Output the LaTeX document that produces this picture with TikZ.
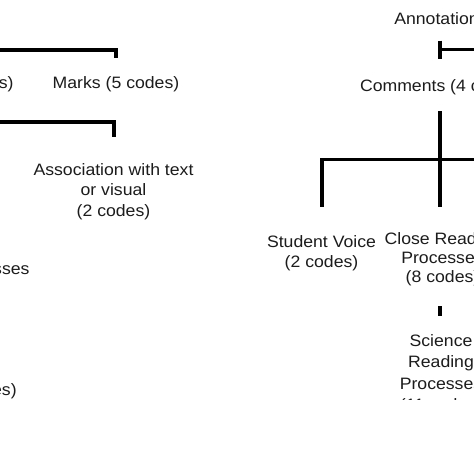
\documentclass[tikz,border=0pt]{standalone}
\usepackage{fontspec}
\setmainfont[FakeStretch=1.07]{Liberation Sans}
\definecolor{txt}{RGB}{28,28,28}
\begin{document}
\begin{tikzpicture}[x=1pt,y=-1pt,
  lbl/.style={inner sep=0pt, outer sep=0pt, text=txt, align=center,
    font=\fontsize{16.5pt}{20pt}\selectfont},
  conn/.style={line width=3.8pt, draw=black, line cap=butt, line join=miter}]
\fill[white] (0,0) rectangle (474,474);
\useasboundingbox (0,0) rectangle (474,474);
\clip (0,0) rectangle (474,399);
% left column (cut off by the picture's edge)
\node[lbl, anchor=base east] (lefta) at (13.5,88.7) {codes)};
\node[lbl, anchor=base] (marks) at (116,88.7) {Marks (5 codes)};
\node[lbl, anchor=north, font=\fontsize{16.5pt}{20.3pt}\selectfont] (assoc) at (113.5,163.7) {Association with text\\or visual\\(2 codes)};
\node[lbl, anchor=base east] (leftb) at (29.5,274.3) {Processes};
\node[lbl, anchor=base east] (leftc) at (16.7,395.8) {codes)};
% right column
\node[lbl, anchor=base west] (ann) at (394.3,24.3) {Annotations};
\node[lbl, anchor=base west] (comm) at (360,91.7) {Comments (4 codes)};
\node[lbl, anchor=north] (voice) at (321.5,235.3) {Student Voice\\(2 codes)};
\node[lbl, anchor=north, font=\fontsize{16.5pt}{19pt}\selectfont] (close) at (442.5,232.5) {Close Reading\\Processes\\(8 codes)};
\node[lbl, anchor=north, font=\fontsize{16.5pt}{21.5pt}\selectfont] (sci) at (441,334.5) {Science\\Reading\\Processes\\(11 codes)};
% connector end points
\coordinate (l1) at (-30,49.7);
\coordinate (m1) at (116,58.3);
\coordinate (l2) at (-30,121.7);
\coordinate (a1) at (113.7,137);
\coordinate (t1) at (440,40.7);
\coordinate (t2) at (440,58.7);
\coordinate (t0) at (440,49.5);
\coordinate (r1) at (500,49.5);
\coordinate (c1) at (440,111);
\coordinate (c2) at (440,206.7);
\coordinate (v1) at (321.7,206.7);
\coordinate (r2) at (500,159.5);
\coordinate (s1) at (440,306);
\coordinate (s2) at (440,316);
% connectors
\draw[conn] (l1) -| (m1);
\draw[conn] (l2) -| (a1);
\draw[conn] (t1) -- (t2);
\draw[conn] (t0) -- (r1);
\draw[conn] (c1) -- (c2);
\draw[conn] (v1) |- (r2);
\draw[conn] (s1) -- (s2);
\end{tikzpicture}
\end{document}
